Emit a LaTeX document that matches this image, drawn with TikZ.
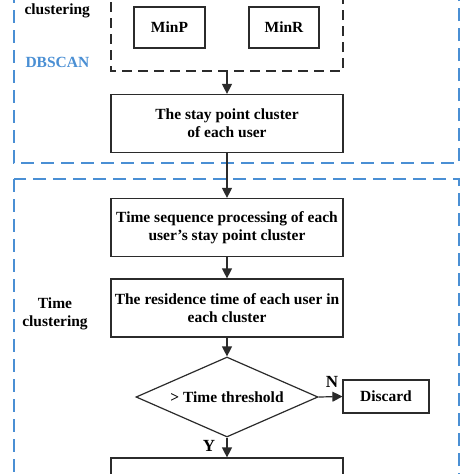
\documentclass[tikz,border=0pt]{standalone}
\usepackage{fontspec}
\setmainfont{Liberation Serif}
\usetikzlibrary{shapes.geometric,arrows.meta}
\definecolor{dashblue}{HTML}{4A8FD4}
\definecolor{boxgray}{HTML}{2B2B2B}
\tikzset{
  procbox/.style={draw=boxgray,line width=1.2pt,minimum width=232pt,minimum height=58pt,inner sep=0pt,align=center,font=\fontsize{15.5}{18}\selectfont\bfseries},
  smallbox/.style={draw=boxgray,line width=1.2pt,inner sep=0pt,align=center,font=\fontsize{15.5}{18}\selectfont\bfseries},
  decide/.style={draw=boxgray,line width=1.2pt,diamond,aspect=2.275,minimum width=182pt,minimum height=80pt,inner sep=0pt,font=\fontsize{15.5}{18}\selectfont\bfseries},
  bluedash/.style={draw=dashblue,line width=1.2pt,dash pattern=on 13pt off 7pt},
  blackdash/.style={draw=boxgray,line width=1.2pt,dash pattern=on 10pt off 6pt},
  flow/.style={draw=boxgray,line width=1.2pt,-{Triangle[length=10pt,width=10pt]}},
  sidelabel/.style={align=center,font=\fontsize{15.5}{18}\selectfont\bfseries},
  yn/.style={font=\fontsize{17}{19}\selectfont\bfseries}
}
\begin{document}
\begin{tikzpicture}[x=1pt,y=-1pt]
\useasboundingbox (0,0) rectangle (474,474);
\fill[white] (0,0) rectangle (474,474);
\clip (0,0) rectangle (474,474);
% blue dashed groups
\draw[bluedash] (14,-30) rectangle (459,163);
\draw[bluedash] (14,179) rectangle (459,520);
% inner black dashed group
\draw[blackdash] (111,-30) rectangle (343,71);
\coordinate (innerbot) at (227,71);
% nodes
\node[smallbox,minimum width=71pt,minimum height=41pt] (minp) at (169.5,27.5) {MinP};
\node[smallbox,minimum width=70pt,minimum height=41pt] (minr) at (284,27.5) {MinR};
\node[sidelabel,anchor=west] (clus1) at (21,11) {clustering};
\node[sidelabel,text=dashblue,anchor=west] (dbscan) at (22,62) {DBSCAN};
\node[procbox] (stay) at (227,123.5) {The stay point cluster\\of each user};
\node[procbox] (seq) at (227,227.5) {Time sequence processing of each\\user's stay point cluster};
\node[procbox] (res) at (227,308) {The residence time of each user in\\each cluster};
\node[sidelabel] (tclus) at (55,313.5) {Time\\clustering};
\node[decide] (thr) at (227,397) {> Time threshold};
\node[smallbox,minimum width=86pt,minimum height=33pt] (disc) at (386,396.5) {Discard};
\node[procbox,minimum height=62pt] (last) at (227,489) {};
% connectors
\draw[flow] (innerbot) -- (stay.north);
\draw[flow] (stay) -- (seq);
\draw[flow] (seq) -- (res);
\draw[flow] (res) -- (thr.north);
\draw[flow] (thr.east) -- (disc.west);
\draw[flow] (thr.south) -- (last.north);
\node[yn] (nlab) at (332,382) {N};
\node[yn] (ylab) at (209,446) {Y};
\end{tikzpicture}
\end{document}
